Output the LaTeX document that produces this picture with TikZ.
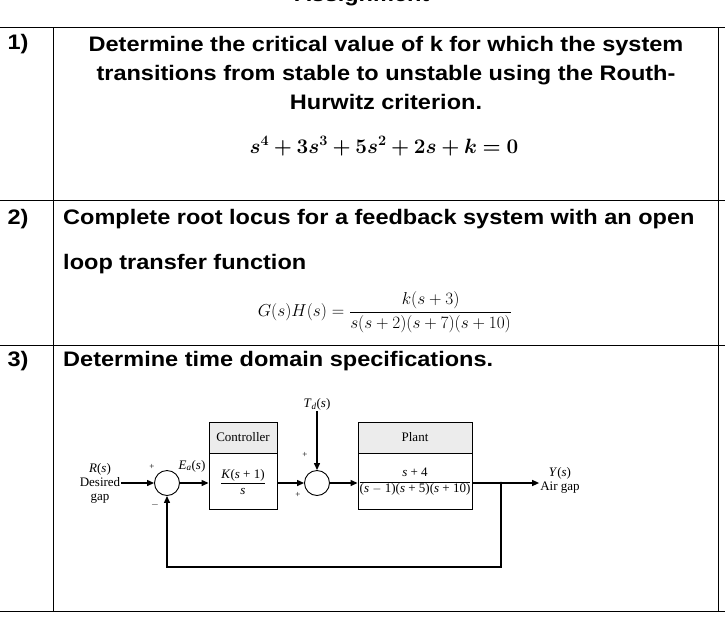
\documentclass[tikz,border=0pt]{standalone}
\usepackage{amsmath,bm}
\usepackage{fontspec}
\setmainfont{Liberation Serif}
\newfontfamily\qfont{Liberation Sans}
\usetikzlibrary{arrows.meta,positioning}
\newcommand{\iv}[1]{\textit{#1}}
\begin{document}
\begin{tikzpicture}[x=1pt,y=-1pt,
  qtext/.style={font=\qfont\bfseries\fontsize{21}{29}\selectfont, inner sep=0pt, xscale=1.12, transform shape},
  sig/.style={line width=1.3pt,-{Triangle[length=7pt,width=6pt]}},
  sumj/.style={circle,draw,line width=0.9pt,minimum size=25pt,inner sep=0pt},
  lbl/.style={font=\fontsize{13}{14}\selectfont,inner sep=1pt},
  blk/.style={draw,line width=0.9pt,minimum height=31pt,inner sep=0pt,font=\fontsize{13}{14}\selectfont}]
\useasboundingbox (0,0) rectangle (725,641);
% table
\draw[line width=0.8pt] (0,27) -- (725,27) (0,200) -- (725,200) (0,345) -- (725,345) (0,611) -- (725,611);
\draw[line width=0.8pt] (53,27) -- (53,611) (718,27) -- (718,611);
\node[qtext] (title) at (362,-4) {Assignment};
% question 1
\node[qtext] (n1) at (18,44) {1)};
\node[qtext,align=center] (q1) at (386,73) {Determine the critical value of k for which the system\\transitions from stable to unstable using the Routh-\\Hurwitz criterion.};
\node[font=\fontsize{20}{20}\selectfont] (eq1) at (384,146) {$\bm{s^4+3s^3+5s^2+2s+k=0}$};
% question 2
\node[qtext] (n2) at (18,219) {2)};
\node[qtext,anchor=west] (q2a) at (63,219) {Complete root locus for a feedback system with an open};
\node[qtext,anchor=west] (q2b) at (63,264) {loop transfer function};
\node[font=\fontsize{17}{18}\selectfont] (eq2) at (385,312) {$G(s)H(s)=\dfrac{k(s+3)}{s(s+2)(s+7)(s+10)}$};
% question 3
\node[qtext] (n3) at (18,361) {3)};
\node[qtext,anchor=west] (q3) at (63,361) {Determine time domain specifications.};
% block diagram
\node[sumj] (s1) at (167,483) {};
\node[sumj] (s2) at (317,483) {};
\node[blk,fill=gray!15,minimum width=68pt,minimum height=31pt] (ctrh) at (243,437.5) {Controller};
\node[blk,minimum width=68pt,minimum height=56pt,below=0pt of ctrh] (ctr) {$\dfrac{\text{\iv{K}(\iv{s} + 1)}}{\text{\iv{s}}}$};
\node[blk,fill=gray!15,minimum width=114pt,minimum height=31pt] (plth) at (415,437.5) {Plant};
\node[blk,minimum width=114pt,minimum height=56pt,below=0pt of plth] (plt) {$\dfrac{\text{\iv{s} + 4}}{\text{(\iv{s} $-$ 1)(\iv{s} + 5)(\iv{s} + 10)}}$};
\node[lbl,align=center] (R) at (100,483) {\iv{R}(\iv{s})\\Desired\\gap};
\node[lbl,align=center] (Y) at (560,480) {\iv{Y}(\iv{s})\\Air gap};
\node[lbl] (Td) at (317,404) {\iv{T}$_{\iv{d}}$(\iv{s})};
\node[lbl] (Ea) at (192,466) {\iv{E}$_{\iv{a}}$(\iv{s})};
\coordinate (br) at (501,483);
\coordinate (fb) at (501,567);
\draw[sig] (R.east) -- (s1);
\draw[sig] (s1) -- (s1 -| ctr.west);
\draw[sig] (s2 -| ctr.east) -- (s2);
\draw[sig] (s2) -- (s2 -| plt.west);
\draw[line width=1.3pt] (s2 -| plt.east) -- (br);
\draw[sig] (br) -- (Y.west |- br);
\fill (br) circle (1.5pt);
\draw[sig] (Td.south) -- (s2);
\draw[sig] (br) -- (fb) -| (s1);
\node[lbl,font=\fontsize{9}{9}\selectfont] at (152,467) {+};
\node[lbl,font=\fontsize{10}{9}\selectfont] at (155,505) {$-$};
\node[lbl,font=\fontsize{9}{9}\selectfont] at (305,455) {+};
\node[lbl,font=\fontsize{9}{9}\selectfont] at (298,495) {+};
\end{tikzpicture}
\end{document}
